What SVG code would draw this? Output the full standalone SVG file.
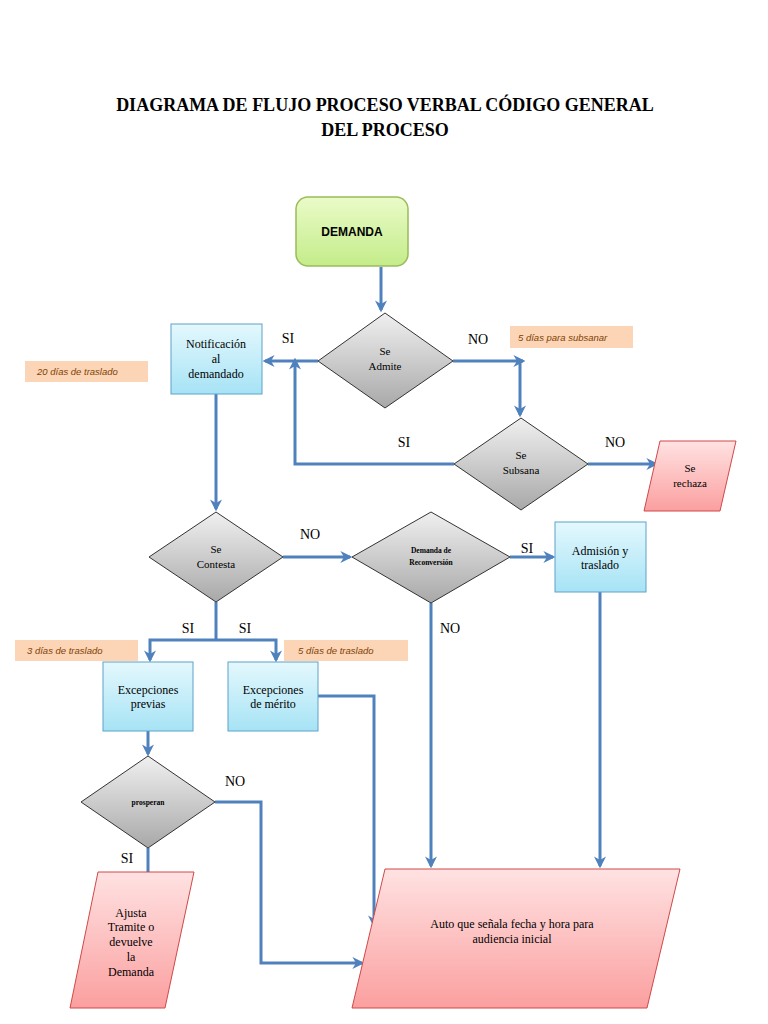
<svg xmlns="http://www.w3.org/2000/svg" width="768" height="1024" viewBox="0 0 768 1024">
<defs>
<linearGradient id="gG" x1="0" y1="0" x2="0" y2="1"><stop offset="0" stop-color="#eafbc8"/><stop offset="1" stop-color="#c4ec8a"/></linearGradient>
<linearGradient id="gB" x1="0" y1="0" x2="0" y2="1"><stop offset="0" stop-color="#e4f8fd"/><stop offset="1" stop-color="#a6e3f5"/></linearGradient>
<linearGradient id="gD" x1="0" y1="0" x2="0" y2="1"><stop offset="0" stop-color="#f0f0f0"/><stop offset="1" stop-color="#a8a8a8"/></linearGradient>
<linearGradient id="gR" x1="0" y1="0" x2="0" y2="1"><stop offset="0" stop-color="#ffe2e2"/><stop offset="1" stop-color="#fb9f9f"/></linearGradient>
<marker id="ah" viewBox="0 0 10 10" refX="8" refY="5" markerWidth="4" markerHeight="4" orient="auto" markerUnits="strokeWidth"><path d="M0,0 L10,5 L0,10 L3,5 Z" fill="#4f81bd"/></marker>
</defs>
<style>
.t{font-family:"Liberation Serif",serif;font-size:12px;fill:#000;text-anchor:middle}
.s{font-size:11px}
.xs{font-size:7.5px;font-weight:bold}
.l{font-family:"Liberation Serif",serif;font-size:14px;fill:#000;text-anchor:middle}
.n{font-family:"Liberation Sans",sans-serif;font-style:italic;font-size:9.5px;fill:#7f3f06}
.c{fill:none;stroke:#4f81bd;stroke-width:3}
.a{marker-end:url(#ah)}
.box{fill:url(#gB);stroke:#5fa2c8;stroke-width:1}
.dia{fill:url(#gD);stroke:#333;stroke-width:1}
.par{fill:url(#gR);stroke:#d04848;stroke-width:1}
.note{fill:#fbd5b5}
</style>
<rect width="768" height="1024" fill="#fff"/>
<text x="385" y="111" font-family="Liberation Serif,serif" font-weight="bold" font-size="18" text-anchor="middle">DIAGRAMA DE FLUJO PROCESO VERBAL CÓDIGO GENERAL</text>
<text x="385" y="136" font-family="Liberation Serif,serif" font-weight="bold" font-size="18" text-anchor="middle">DEL PROCESO</text>

<g id="connectors">
<path class="c a" d="M381,267 V310"/>
<path class="c a" d="M318,361 H265"/>
<path class="c a" d="M453,361 H523"/>
<path class="c a" d="M520,361 V415"/>
<path class="c a" d="M454,464 H295 V360"/>
<path class="c a" d="M588,464 H656"/>
<path class="c a" d="M216,394 V509"/>
<path class="c a" d="M283,557 H350"/>
<path class="c a" d="M510,557 H553"/>
<path class="c a" d="M431,603 V866"/>
<path class="c a" d="M600,592 V866"/>
<path class="c" d="M216,602 V640"/>
<path class="c a" d="M216,640 H150 V660"/>
<path class="c a" d="M216,640 H276 V660"/>
<path class="c a" d="M318,696 H374 V925"/>
<path class="c a" d="M148,731 V754"/>
<path class="c a" d="M215,802 H261 V963 H362"/>
<path class="c" d="M148,848 V872"/>
</g>

<g id="notes">
<rect class="note" x="510" y="326" width="123" height="22"/><text class="n" x="518" y="341">5 días para subsanar</text>
<rect class="note" x="25" y="361" width="123" height="21"/><text class="n" x="37" y="375">20 días de traslado</text>
<rect class="note" x="15" y="640" width="123" height="21"/><text class="n" x="27" y="654">3 días de traslado</text>
<rect class="note" x="284" y="640" width="124" height="21"/><text class="n" x="298" y="654">5 días de traslado</text>
</g>

<g id="labels">
<text class="l" x="288" y="343">SI</text>
<text class="l" x="478" y="344">NO</text>
<text class="l" x="404" y="447">SI</text>
<text class="l" x="615" y="447">NO</text>
<text class="l" x="310" y="539">NO</text>
<text class="l" x="527" y="553">SI</text>
<text class="l" x="188" y="633">SI</text>
<text class="l" x="245" y="633">SI</text>
<text class="l" x="450" y="633">NO</text>
<text class="l" x="235" y="786">NO</text>
<text class="l" x="127" y="863">SI</text>
</g>

<g id="demanda">
<rect x="296" y="197" width="112" height="69" rx="12" fill="url(#gG)" stroke="#9bbb59" stroke-width="1.5"/>
<text x="352" y="236" font-family="Liberation Sans,sans-serif" font-weight="bold" font-size="12" text-anchor="middle">DEMANDA</text>
</g>
<g id="se-admite">
<polygon class="dia" points="385,313 453,361 385,408 318,361"/>
<text class="t s" x="385" y="355">Se</text><text class="t s" x="385" y="370">Admite</text>
</g>
<g id="notificacion">
<rect class="box" x="171" y="324" width="91" height="70"/>
<text class="t" x="216" y="348">Notificación</text><text class="t" x="216" y="363">al</text><text class="t" x="216" y="378">demandado</text>
</g>
<g id="se-subsana">
<polygon class="dia" points="521,418 588,464 521,510 454,464"/>
<text class="t s" x="521" y="459">Se</text><text class="t s" x="521" y="474">Subsana</text>
</g>
<g id="se-rechaza">
<polygon class="par" points="660,441 736,441 720,511 644,511"/>
<text class="t s" x="690" y="472">Se</text><text class="t s" x="690" y="487">rechaza</text>
</g>
<g id="se-contesta">
<polygon class="dia" points="216,512 283,557 216,602 149,557"/>
<text class="t s" x="216" y="553">Se</text><text class="t s" x="216" y="568">Contesta</text>
</g>
<g id="reconversion">
<polygon class="dia" points="431,512 510,557 431,603 352,557"/>
<text class="t xs" x="431" y="553">Demanda de</text><text class="t xs" x="431" y="565">Reconversión</text>
</g>
<g id="admision">
<rect class="box" x="555" y="522" width="91" height="70"/>
<text class="t" x="600" y="555">Admisión y</text><text class="t" x="600" y="569">traslado</text>
</g>
<g id="exc-previas">
<rect class="box" x="103" y="662" width="90" height="69"/>
<text class="t" x="148" y="694">Excepciones</text><text class="t" x="148" y="708">previas</text>
</g>
<g id="exc-merito">
<rect class="box" x="228" y="662" width="90" height="69"/>
<text class="t" x="273" y="694">Excepciones</text><text class="t" x="273" y="708">de mérito</text>
</g>
<g id="prosperan">
<polygon class="dia" points="148,756 215,802 148,848 81,802"/>
<text class="t xs" x="148" y="805">prosperan</text>
</g>
<g id="ajusta">
<polygon class="par" points="98,872 194,872 165,1008 70,1008"/>
<text class="t" x="131" y="917">Ajusta</text><text class="t" x="131" y="931">Tramite o</text><text class="t" x="131" y="946">devuelve</text><text class="t" x="131" y="961">la</text><text class="t" x="131" y="976">Demanda</text>
</g>
<g id="auto">
<polygon class="par" points="385,869 680,869 647,1008 352,1008"/>
<text class="t" x="512" y="928">Auto que señala fecha y hora para</text><text class="t" x="512" y="943">audiencia inicial</text>
</g>
</svg>
